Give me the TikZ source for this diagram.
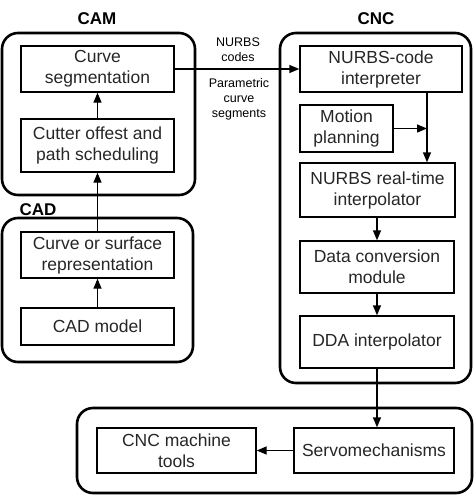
\documentclass[tikz,border=0pt]{standalone}
\usepackage{fontspec}
\setmainfont{Liberation Sans}
\usetikzlibrary{arrows.meta}
\begin{document}
\begin{tikzpicture}[x=1pt,y=-1pt,
  box/.style={draw, line width=1.4pt, inner sep=0pt, align=center,
    font=\fontsize{17.5}{21}\selectfont, text=black!85},
  group/.style={draw, line width=2.6pt, rounded corners=16pt},
  ttl/.style={font=\fontsize{17}{20}\selectfont\bfseries},
  lbl/.style={font=\fontsize{12.5}{15}\selectfont, align=center},
  arr/.style={line width=1.4pt, -{Triangle[length=10pt,width=8pt]}}]
\useasboundingbox (0,0) rectangle (474,496);
% containers
\draw[group] (2,33) rectangle (195,195);
\draw[group] (2,218) rectangle (193,362);
\draw[group] (280,33) rectangle (471,383);
\draw[group] (77,408) rectangle (472,493);
\node[ttl] (tcam) at (97,19) {CAM};
\node[ttl] (tcad) at (38,210) {CAD};
\node[ttl] (tcnc) at (376,19) {CNC};
% CAM/CAD boxes
\node[box, minimum width=153pt, minimum height=46pt] (seg) at (97.5,69) {Curve\\segmentation};
\node[box, minimum width=153pt, minimum height=53pt] (cut) at (97.5,145.5) {Cutter offest and\\path scheduling};
\node[box, minimum width=153pt, minimum height=46pt] (surf) at (97.5,255) {Curve or surface\\representation};
\node[box, minimum width=153pt, minimum height=37pt] (cadm) at (97.5,326.5) {CAD model};
% CNC boxes
\node[box, minimum width=162pt, minimum height=46pt] (nci) at (381,69) {NURBS-code\\interpreter};
\node[box, minimum width=93pt, minimum height=47pt] (mot) at (346.5,128.5) {Motion\\planning};
\node[box, minimum width=155pt, minimum height=54pt] (rti) at (377.5,190) {NURBS real-time\\interpolator};
\node[box, minimum width=154pt, minimum height=52pt] (dcm) at (377,267) {Data conversion\\module};
\node[box, minimum width=154pt, minimum height=52pt] (dda) at (377,342) {DDA interpolator};
% bottom boxes
\node[box, minimum width=159pt, minimum height=45pt] (mach) at (176.5,450.5) {CNC machine\\tools};
\node[box, minimum width=160pt, minimum height=45pt] (servo) at (374,450.5) {Servomechanisms};
% labels
\node[lbl] (l1) at (238,50) {NURBS\\codes};
\node[lbl] (l2) at (239,99) {Parametric\\curve\\segments};
% connectors
\draw[arr] (cut.north) -- (seg.south);
\draw[arr] (surf.north) -- (cut.south);
\draw[arr] (cadm.north) -- (surf.south);
\draw[arr] (seg.east) -- (nci.west);
\coordinate (jx) at (427,128.5);
\draw[arr] (nci.south -| jx) -- (rti.north -| jx);
\draw[arr] (mot.east) -- (jx);
\draw[arr] (rti.south -| dcm.north) -- (dcm.north);
\draw[arr] (dcm.south) -- (dda.north);
\draw[arr] (dda.south) -- (dda.south |- servo.north);
\draw[arr] (servo.west) -- (mach.east);
\end{tikzpicture}
\end{document}
